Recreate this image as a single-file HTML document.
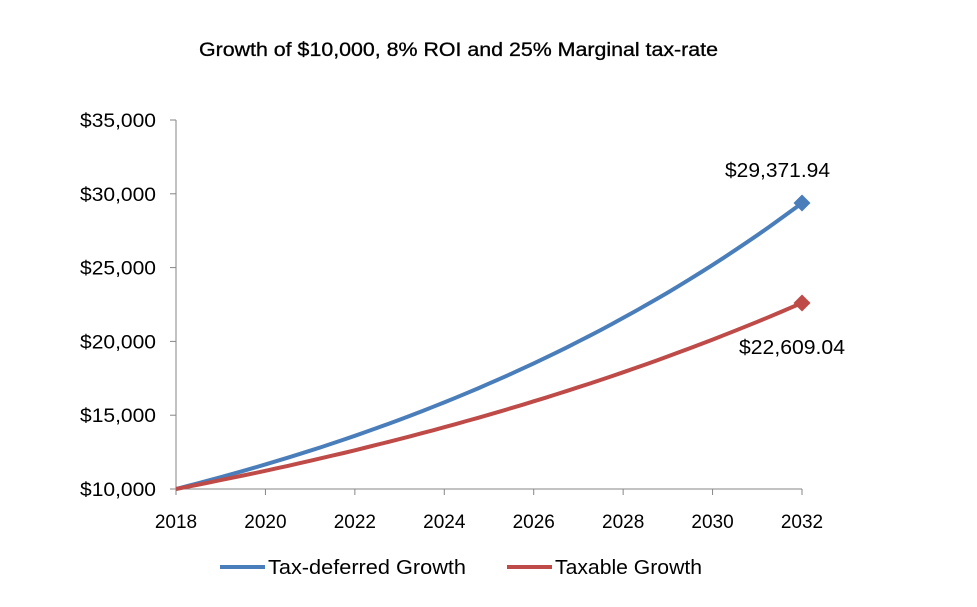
<!DOCTYPE html>
<html><head><style>
body{margin:0;background:#fff;}
svg text{font-family:"Liberation Sans",Calibri,sans-serif;}
</style></head><body>
<svg id="s" width="977" height="602" xmlns="http://www.w3.org/2000/svg">
<rect width="977" height="602" fill="#fff"/>
<text x="199" y="56" font-size="19" textLength="519" lengthAdjust="spacingAndGlyphs" fill="#000" stroke="#000" stroke-width="0.3">Growth of $10,000, 8% ROI and 25% Marginal tax-rate</text>
<g id="ax" stroke="#868686" stroke-width="1" fill="none"></g>
<g id="lab" font-size="19" fill="#000"></g>
<path id="p1" fill="none" stroke="#4a7ebb" stroke-width="4"/>
<path id="p2" fill="none" stroke="#be4b48" stroke-width="4"/>
<rect x="796" y="197" width="12" height="12" fill="#4a7ebb" transform="rotate(45 802 203)"/>
<rect x="796" y="297" width="12" height="12" fill="#be4b48" transform="rotate(45 802 303)"/>
<text x="725" y="177" font-size="20" textLength="105" lengthAdjust="spacingAndGlyphs">$29,371.94</text>
<text x="739" y="354" font-size="20" textLength="106" lengthAdjust="spacingAndGlyphs">$22,609.04</text>
<line x1="220" y1="567" x2="265" y2="567" stroke="#4a7ebb" stroke-width="4"/>
<text x="268" y="574" font-size="20" textLength="198" lengthAdjust="spacingAndGlyphs">Tax-deferred Growth</text>
<line x1="507" y1="567" x2="552" y2="567" stroke="#be4b48" stroke-width="4"/>
<text x="555" y="574" font-size="20" textLength="147" lengthAdjust="spacingAndGlyphs">Taxable Growth</text>
</svg>
<script>
var X=function(n){return 176+n*626/14;},Y=function(v){return 489-(v-10000)/5000*73.8;};
var ax=document.getElementById('ax'),lab=document.getElementById('lab'),h='',l='';
h+='<line x1="176" y1="120" x2="176" y2="489"/><line x1="176" y1="489" x2="802" y2="489"/>';
for(var i=0;i<6;i++){var y=Y(10000+i*5000);h+='<line x1="170" y1="'+y+'" x2="176" y2="'+y+'"/>';
l+='<text x="156" y="'+(y+7)+'" text-anchor="end" textLength="76" lengthAdjust="spacingAndGlyphs">$'+(10+i*5)+',000</text>';}
for(var k=0;k<=7;k++){var x=X(k*2);h+='<line x1="'+x+'" y1="489" x2="'+x+'" y2="495"/>';
l+='<text x="'+x+'" y="528" text-anchor="middle">'+(2018+k*2)+'</text>';}
ax.innerHTML=h;lab.innerHTML=l;
function p(r){var d='';for(var n=0;n<=14;n+=0.25){d+=(n?'L':'M')+X(n).toFixed(1)+' '+Y(10000*Math.pow(r,n)).toFixed(1);}return d;}
document.getElementById('p1').setAttribute('d',p(1.08));
document.getElementById('p2').setAttribute('d',p(1.06));
</script>
</body></html>
